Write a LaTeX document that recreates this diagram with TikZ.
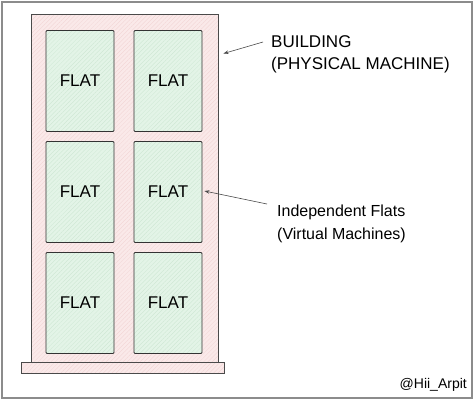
\documentclass[tikz,border=0pt]{standalone}
\usepackage{fontspec}
\setmainfont{Liberation Sans}
\usepackage{xcolor}
\usepackage{tikz}
\usetikzlibrary{arrows.meta,calc,positioning,patterns.meta}
\definecolor{bpink}{HTML}{FAE9E9}
\definecolor{bhatch}{HTML}{F1D3D3}
\definecolor{fgreen}{HTML}{E3F4E7}
\definecolor{fhatch}{HTML}{CBE6D1}
\definecolor{dgray}{HTML}{4A4A4A}

\tikzset{
  building/.style={draw=dgray, line width=0.9pt, preaction={fill=bpink},
    preaction={pattern={Lines[angle=45,distance=3pt,line width=0.3pt]}, pattern color=bhatch}},
  flatbox/.style={draw=black!80, line width=0.9pt, preaction={fill=fgreen}, rounded corners=1pt,
    minimum width=68pt, minimum height=101pt, font=\fontsize{17}{20}\selectfont,
    preaction={pattern={Lines[angle=45,distance=3pt,line width=0.3pt]}, pattern color=fhatch}},
  note/.style={anchor=west, inner sep=0pt, font=\fontsize{17}{20}\selectfont},
  pointer/.style={draw=dgray, line width=0.6pt, -{Stealth[length=5pt,width=3.5pt]}}
}

\begin{document}
\begin{tikzpicture}[x=1pt,y=-1pt]

  \useasboundingbox (0,0) rectangle (474,400);

  % moldura
  \draw[black!45, line width=2pt] (1.5,1.5) rectangle (471.5,397.5);

  % prédio e base
  \node[building, minimum width=187pt, minimum height=348pt] (building) at (124.5,188) {};
  \node[building, minimum width=203pt, minimum height=11pt, below=0pt of building.south, xshift=-2pt] (sill) {};

  % apartamentos
  \foreach \r/\y in {1/81,2/192,3/303}
    \foreach \c/\x in {1/80,2/168}
      \node[flatbox] (flat\r\c) at (\x,\y) {FLAT};

  % rótulos
  \node[note] (bld1) at (271,42) {BUILDING};
  \node[note, below=9pt of bld1.south west, anchor=north west] (bld2) {(PHYSICAL MACHINE)};
  \node[note, font=\fontsize{16}{19}\selectfont] (vm1) at (277,212) {Independent Flats};
  \node[note, font=\fontsize{16}{19}\selectfont, below=8pt of vm1.south west, anchor=north west] (vm2) {(Virtual Machines)};
  \node[anchor=east, inner sep=0pt, font=\fontsize{14}{16}\selectfont] (handle) at (467,385) {@Hii\_Arpit};

  % setas
  \coordinate (bldtip) at ($(building.north east)+(5,40)$);
  \draw[pointer] ($(bld1.west)+(-8,0)$) -- (bldtip);
  \draw[pointer] ($(vm1.west)+(-10,-8)$) -- ($(flat22.east)+(2,-1)$);

\end{tikzpicture}
\end{document}
